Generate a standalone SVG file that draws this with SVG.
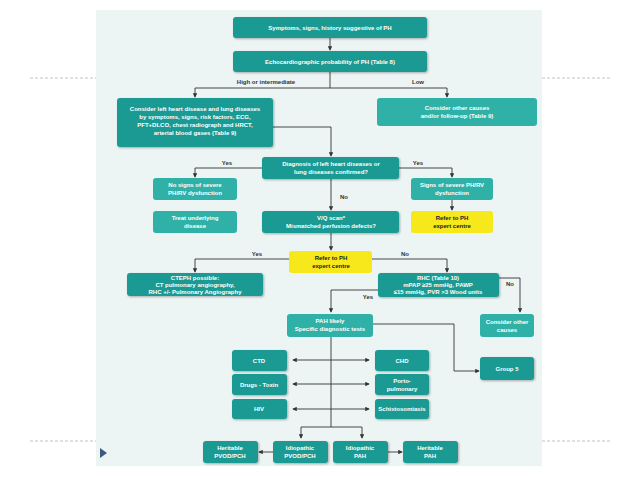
<svg xmlns="http://www.w3.org/2000/svg" width="638" height="478" viewBox="0 0 638 478">
<defs>
<marker id="a" viewBox="0 0 6 6" refX="5" refY="3" markerWidth="5" markerHeight="5" orient="auto-start-reverse"><path d="M0,0L6,3L0,6z" fill="#333"/></marker>
<style>
.b{fill:#1a9a93;filter:drop-shadow(1px 1px 1px rgba(0,0,0,.3))}
.l{fill:#2fb1a8}
.y{fill:#f7e81c}
text{font-family:"Liberation Sans",Arial,sans-serif;font-weight:bold;font-size:6px;text-anchor:middle;fill:#fff}
.k{fill:#222}
.lb{fill:#333;font-size:6px}
.c path,.c line{stroke:#333;stroke-width:.9;fill:none}
</style>
</defs>
<rect width="638" height="478" fill="#fff"/>
<g stroke="#aaa" stroke-width=".7" stroke-dasharray="3,2"><line x1="30" y1="78" x2="96" y2="78"/><line x1="542" y1="78" x2="612" y2="78"/><line x1="30" y1="441" x2="96" y2="441"/><line x1="542" y1="441" x2="612" y2="441"/></g>
<rect x="96" y="10" width="446" height="456" fill="#edf4f4"/>
<path d="M100,448L107,453L100,458z" fill="#3d5a80"/>
<g class="c">
<line x1="330" y1="38" x2="330" y2="50" marker-end="url(#a)"/>
<path d="M330,72V88"/><path d="M195,88H447"/>
<line x1="195" y1="88" x2="195" y2="97" marker-end="url(#a)"/>
<line x1="447" y1="88" x2="447" y2="97" marker-end="url(#a)"/>
<path d="M273,127H331V156" marker-end="url(#a)"/>
<path d="M262,168H195V177" marker-end="url(#a)"/>
<path d="M399,168H452V177" marker-end="url(#a)"/>
<line x1="452" y1="200" x2="452" y2="210" marker-end="url(#a)"/>
<line x1="331" y1="179" x2="331" y2="210" marker-end="url(#a)"/>
<line x1="331" y1="233" x2="331" y2="250" marker-end="url(#a)"/>
<path d="M289,259H195V272" marker-end="url(#a)"/>
<path d="M372,259H447V272" marker-end="url(#a)"/>
<path d="M499,278H520V312" marker-end="url(#a)"/>
<path d="M378,290H331V312" marker-end="url(#a)"/>
<path d="M373,324H454V371H479" marker-end="url(#a)"/>
<path d="M331,337V427"/>
<line x1="293" y1="360" x2="369" y2="360" marker-start="url(#a)" marker-end="url(#a)"/>
<line x1="293" y1="384" x2="369" y2="384" marker-start="url(#a)" marker-end="url(#a)"/>
<line x1="293" y1="409" x2="369" y2="409" marker-start="url(#a)" marker-end="url(#a)"/>
<path d="M301,438V427H362V438" marker-start="url(#a)" marker-end="url(#a)"/>
<line x1="273" y1="452" x2="259" y2="452" marker-end="url(#a)"/>
<line x1="388" y1="452" x2="402" y2="452" marker-end="url(#a)"/>
</g>
<g>
<text class="lb" x="266" y="84">High or intermediate</text>
<text class="lb" x="418" y="84">Low</text>
<text class="lb" x="227" y="165">Yes</text>
<text class="lb" x="418" y="165">Yes</text>
<text class="lb" x="344" y="199">No</text>
<text class="lb" x="257" y="256">Yes</text>
<text class="lb" x="405" y="256">No</text>
<text class="lb" x="510" y="286">No</text>
<text class="lb" x="368" y="299">Yes</text>
</g>
<g id="n1"><rect class="b" x="233" y="17" width="194" height="21" rx="3"/><text x="330" y="30">Symptoms, signs, history suggestive of PH</text></g>
<g id="n2"><rect class="b" x="233" y="51" width="194" height="21" rx="3"/><text x="330" y="64">Echocardiographic probability of PH (Table 8)</text></g>
<g id="n3"><rect class="b" x="117" y="98" width="156" height="49" rx="3"/><text x="195" y="111">Consider left heart disease and lung diseases</text><text x="195" y="119">by symptoms, signs, risk factors, ECG,</text><text x="195" y="127">PFT+DLCO, chest radiograph and HRCT,</text><text x="195" y="135">arterial blood gases  (Table 9)</text></g>
<g id="n4"><rect class="l" x="377" y="98" width="160" height="28" rx="3"/><text x="457" y="110">Consider other causes</text><text x="457" y="118">and/or follow-up (Table 9)</text></g>
<g id="n5"><rect class="b" x="262" y="157" width="137" height="22" rx="3"/><text x="331" y="166">Diagnosis of left heart diseases or</text><text x="331" y="174">lung diseases confirmed?</text></g>
<g id="n6"><rect class="l" x="153" y="178" width="84" height="22" rx="3"/><text x="195" y="187">No signs of severe</text><text x="195" y="195">PH/RV dysfunction</text></g>
<g id="n7"><rect class="l" x="153" y="211" width="84" height="22" rx="3"/><text x="195" y="220">Treat underlying</text><text x="195" y="228">disease</text></g>
<g id="n8"><rect class="l" x="411" y="178" width="82" height="22" rx="3"/><text x="452" y="187">Signs of severe PH/RV</text><text x="452" y="195">dysfunction</text></g>
<g id="n9"><rect class="y" x="411" y="211" width="82" height="22" rx="3"/><text class="k" x="452" y="220">Refer to PH</text><text class="k" x="452" y="228">expert centre</text></g>
<g id="n10"><rect class="b" x="262" y="211" width="137" height="22" rx="3"/><text x="331" y="220">V/Q scan<tspan font-size="4" dy="-2">a</tspan></text><text x="331" y="228">Mismatched perfusion defects?</text></g>
<g id="n11"><rect class="y" x="289" y="251" width="83" height="22" rx="3"/><text class="k" x="331" y="260">Refer to PH</text><text class="k" x="331" y="268">expert centre</text></g>
<g id="n12"><rect class="b" x="127" y="273" width="136" height="23" rx="3"/><text x="195" y="280">CTEPH possible:</text><text x="195" y="287">CT pulmonary angiography,</text><text x="195" y="294">RHC +/- Pulmonary Angiography</text></g>
<g id="n13"><rect class="b" x="378" y="273" width="121" height="24" rx="3"/><text x="438" y="280">RHC (Table 10)</text><text x="438" y="287">mPAP ≥25 mmHg, PAWP</text><text x="438" y="294">≤15 mmHg, PVR &gt;3 Wood units</text></g>
<g id="n14"><rect class="l" x="287" y="314" width="86" height="23" rx="3"/><text x="330" y="323">PAH likely</text><text x="330" y="331">Specific diagnostic tests</text></g>
<g id="n15"><rect class="l" x="480" y="314" width="54" height="23" rx="3"/><text x="507" y="324">Consider other</text><text x="507" y="332">causes</text></g>
<g id="n16"><rect class="b" x="480" y="357" width="54" height="23" rx="3"/><text x="507" y="371">Group 5</text></g>
<g id="n17"><rect class="b" x="232" y="350" width="55" height="21" rx="3"/><text x="259" y="363">CTD</text></g>
<g id="n18"><rect class="b" x="232" y="374" width="55" height="21" rx="3"/><text x="259" y="387">Drugs - Toxin</text></g>
<g id="n19"><rect class="b" x="232" y="399" width="55" height="20" rx="3"/><text x="259" y="411">HIV</text></g>
<g id="n20"><rect class="b" x="375" y="350" width="54" height="21" rx="3"/><text x="402" y="363">CHD</text></g>
<g id="n21"><rect class="b" x="375" y="374" width="54" height="21" rx="3"/><text x="402" y="383">Porto-</text><text x="402" y="391">pulmonary</text></g>
<g id="n22"><rect class="b" x="375" y="399" width="54" height="20" rx="3"/><text x="402" y="411">Schistosomiasis</text></g>
<g id="n23"><rect class="b" x="203" y="441" width="55" height="22" rx="3"/><text x="230" y="450">Heritable</text><text x="230" y="458">PVOD/PCH</text></g>
<g id="n24"><rect class="b" x="273" y="441" width="55" height="22" rx="3"/><text x="300" y="450">Idiopathic</text><text x="300" y="458">PVOD/PCH</text></g>
<g id="n25"><rect class="b" x="333" y="441" width="55" height="22" rx="3"/><text x="360" y="450">Idiopathic</text><text x="360" y="458">PAH</text></g>
<g id="n26"><rect class="b" x="403" y="441" width="55" height="22" rx="3"/><text x="430" y="450">Heritable</text><text x="430" y="458">PAH</text></g>
</svg>
